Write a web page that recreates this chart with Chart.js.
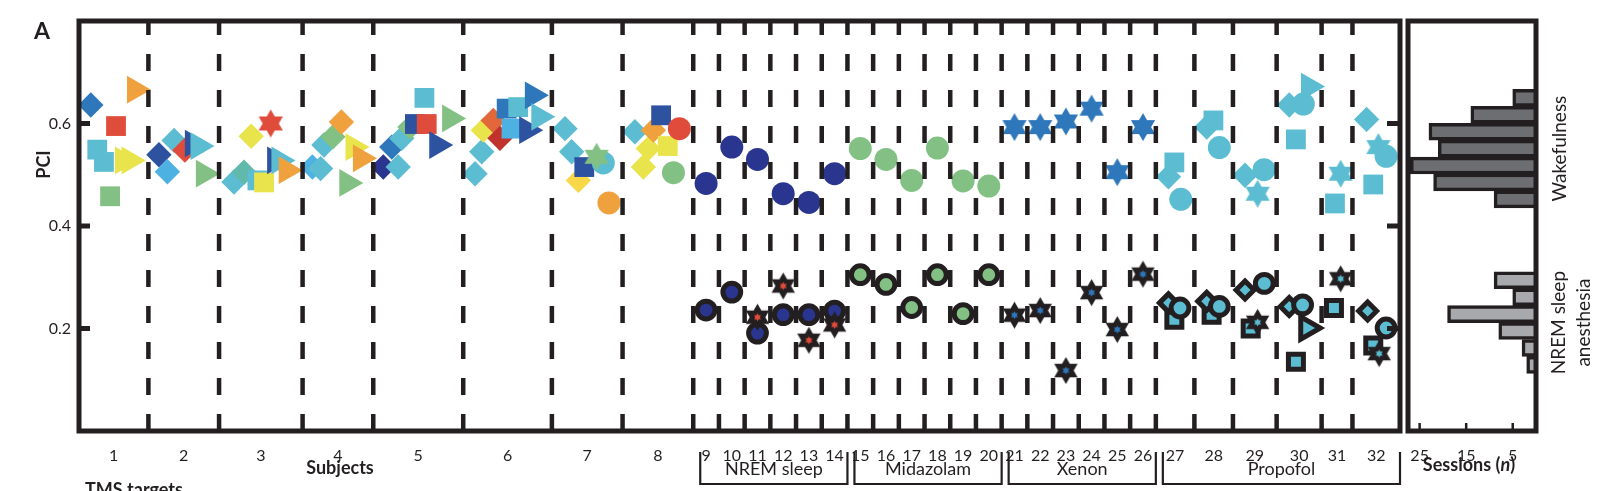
<!DOCTYPE html>
<html>
<head>
<meta charset="utf-8">
<script src="https://cdn.jsdelivr.net/npm/chart.js@4.4.1/dist/chart.umd.min.js"></script>
<style>
  html, body { margin: 0; padding: 0; background: #fff; }
  #wrap { position: relative; width: 1600px; height: 491px; overflow: hidden; }
  #main { position: absolute; left: 0; top: 0; width: 1404px; height: 491px; }
  #hist { position: absolute; left: 1400px; top: 0; width: 200px; height: 491px; }
</style>
</head>
<body>
<div id="wrap">
  <canvas id="main" width="1404" height="491"></canvas>
  <canvas id="hist" width="200" height="491"></canvas>
</div>
<script>
// x positions are in session-column units (subjects 9-26 take one column each)
const subjectEdges = [0, 2.7, 5.45, 8.7, 11.45, 14.95, 18.4, 21.15, 23.9, 24.9, 25.9, 26.9, 27.9,
  28.9, 29.9, 30.9, 31.9, 32.9, 33.9, 34.9, 35.9, 36.9, 37.9, 38.9, 39.9, 40.9, 41.9,
  43.4, 44.9, 46.6, 48.35, 49.55, 51.4];
const subjects = Array.from({ length: 32 }, (_, i) => i + 1);
const groups = ['NREM sleep', 'Midazolam', 'Xenon', 'Propofol'];
const groupFirst = [9, 15, 21, 27];
const groupLast = [14, 20, 26, 32];

// TMS target colours (index used as third value of every point)
const targetColors = ['#2a3590', '#2d52a0', '#2f77bb', '#4db2e2', '#5cbdd2', '#60b9aa', '#82c183',
  '#e9e44b', '#f8d848', '#eea13d', '#e2673b', '#e04c3b', '#c2322c'];

// wakefulness: [x, PCI, target]
const awakeDiamond = [
  [0.46, 0.636, 2],
  [3.11, 0.539, 1], [3.70, 0.567, 4], [3.44, 0.506, 3], [4.12, 0.548, 11],
  [6.03, 0.486, 4], [6.42, 0.505, 5], [6.70, 0.575, 7],
  [9.08, 0.515, 3], [9.40, 0.512, 4], [9.53, 0.558, 4], [9.88, 0.574, 6], [10.21, 0.603, 9],
  [11.84, 0.515, 0], [12.17, 0.554, 2], [12.42, 0.515, 4], [12.56, 0.571, 4], [12.88, 0.593, 6],
  [15.41, 0.502, 4], [15.67, 0.545, 4], [15.73, 0.587, 7], [16.12, 0.606, 10], [16.38, 0.571, 12],
  [18.91, 0.590, 4], [19.17, 0.545, 4], [19.43, 0.489, 8],
  [21.63, 0.584, 4], [21.96, 0.515, 7], [22.15, 0.551, 7], [22.35, 0.587, 9],
  [42.39, 0.496, 4], [43.88, 0.593, 4], [45.37, 0.499, 4], [47.09, 0.636, 4], [50.10, 0.608, 4]
];
const awakeSquare = [
  [1.44, 0.595, 11], [0.71, 0.549, 4], [0.97, 0.525, 4], [1.21, 0.458, 6],
  [6.94, 0.489, 4], [7.20, 0.485, 7],
  [13.07, 0.599, 1], [13.53, 0.599, 11], [13.44, 0.650, 4],
  [16.64, 0.629, 2], [17.09, 0.632, 4], [16.83, 0.590, 3],
  [19.66, 0.515, 1],
  [22.65, 0.616, 1], [22.91, 0.556, 7],
  [42.62, 0.524, 4], [44.14, 0.606, 4], [47.35, 0.569, 4], [48.87, 0.444, 4], [50.36, 0.481, 4]
];
const awakeTriangle = [
  [2.18, 0.666, 9], [1.71, 0.528, 7], [1.97, 0.528, 7],
  [4.43, 0.561, 1], [4.65, 0.556, 4], [4.86, 0.502, 6],
  [7.63, 0.528, 1], [7.80, 0.528, 4], [8.08, 0.509, 9],
  [10.68, 0.554, 7], [10.97, 0.532, 9], [10.44, 0.484, 6],
  [14.44, 0.610, 6], [13.94, 0.558, 1],
  [17.44, 0.587, 1], [17.66, 0.655, 2], [17.91, 0.613, 4],
  [47.86, 0.672, 4]
];
const awakeCircle = [
  [20.40, 0.523, 4], [20.62, 0.445, 9], [23.36, 0.590, 11], [23.13, 0.504, 6],
  [24.4, 0.483, 0], [25.4, 0.554, 0], [26.4, 0.530, 0], [27.4, 0.463, 0], [28.4, 0.446, 0], [29.4, 0.502, 0],
  [30.4, 0.551, 6], [31.4, 0.530, 6], [32.4, 0.489, 6], [33.4, 0.552, 6], [34.4, 0.488, 6], [35.4, 0.478, 6],
  [42.87, 0.452, 4], [44.37, 0.553, 4], [46.11, 0.510, 4], [47.64, 0.638, 4], [50.86, 0.536, 4]
];
const awakeStar = [
  [7.46, 0.600, 11], [20.14, 0.535, 6],
  [36.4, 0.593, 2], [37.4, 0.593, 2], [38.4, 0.604, 2], [39.4, 0.629, 2], [40.4, 0.505, 2], [41.4, 0.593, 2],
  [45.86, 0.463, 4], [49.09, 0.502, 4], [50.56, 0.554, 4]
];

// NREM sleep / anesthesia: [x, PCI, target]
const sleepCircle = [
  [24.4, 0.236, 0], [25.4, 0.271, 0], [26.4, 0.191, 0], [27.4, 0.227, 0], [28.4, 0.227, 0], [29.4, 0.234, 0],
  [30.4, 0.305, 6], [31.4, 0.286, 6], [32.4, 0.241, 6], [33.4, 0.305, 6], [34.4, 0.229, 6], [35.4, 0.305, 6],
  [42.84, 0.240, 4], [44.37, 0.243, 4], [46.12, 0.288, 4], [47.61, 0.246, 4], [50.86, 0.201, 4]
];
const sleepStar = [
  [26.4, 0.222, 11], [27.4, 0.283, 11], [28.4, 0.177, 11], [29.4, 0.207, 11],
  [36.4, 0.226, 2], [37.4, 0.235, 2], [38.4, 0.118, 2], [39.4, 0.270, 2], [40.4, 0.198, 2], [41.4, 0.306, 2],
  [45.86, 0.212, 4], [49.09, 0.297, 4], [50.59, 0.151, 4]
];
const sleepDiamond = [[42.39, 0.250, 4], [43.88, 0.253, 4], [45.37, 0.275, 4], [47.09, 0.243, 4], [50.14, 0.234, 4]];
const sleepSquare = [[42.62, 0.217, 4], [44.07, 0.227, 4], [45.59, 0.200, 4], [47.35, 0.135, 4], [48.83, 0.240, 4], [50.36, 0.167, 4]];
const sleepTriangle = [[47.79, 0.201, 4]];

// histogram of sessions
const wakeBins = [0.650, 0.617, 0.584, 0.551, 0.518, 0.485, 0.452];
const wakeCounts = [5, 14, 23, 21, 27, 22, 9];
const sleepBins = [0.294, 0.261, 0.228, 0.195, 0.162, 0.129];
const sleepCounts = [9, 5, 19, 8, 3, 2];
const sessionTicks = [25, 15, 5];

const ink = '#231f20';
Chart.defaults.font.family = 'Lato';
Chart.defaults.font.size = 16;
Chart.defaults.color = ink;

const starCache = {};
function starImage(color, asleep) {
  const key = color + asleep;
  if (starCache[key]) return starCache[key];
  const R = asleep ? 13.5 : 14;
  const c = document.createElement('canvas');
  c.width = c.height = Math.ceil(R * 2 + 2);
  const g = c.getContext('2d');
  const hex = (r) => {
    g.beginPath();
    for (let k = 0; k < 2; k++) {
      for (let i = 0; i < 3; i++) {
        const ang = -Math.PI / 2 + k * Math.PI + i * 2 * Math.PI / 3;
        const px = c.width / 2 + r * Math.cos(ang), py = c.height / 2 + r * Math.sin(ang);
        i === 0 ? g.moveTo(px, py) : g.lineTo(px, py);
      }
      g.closePath();
    }
    g.fill();
  };
  g.fillStyle = asleep ? ink : color;
  hex(R);
  if (asleep) { g.fillStyle = color; hex(4); }
  starCache[key] = c;
  return c;
}

const styleName = { diamond: 'rectRot', square: 'rect', triangle: 'triangle', circle: 'circle' };
const radius = {
  awake: { diamond: 12.7, square: 14, triangle: 16, circle: 11.5, star: 13 },
  asleep: { diamond: 9, square: 10.6, triangle: 13, circle: 8.9, star: 13 }
};

function shapeSet(points, shape, asleep) {
  const colors = points.map(p => targetColors[p[2]]);
  return {
    data: points.map(p => ({ x: p[0], y: p[1] })),
    pointBackgroundColor: colors,
    pointBorderColor: asleep ? ink : colors,
    pointBorderWidth: asleep ? 5 : 0,
    pointStyle: shape === 'star' ? colors.map(c => starImage(c, asleep)) : styleName[shape],
    pointRotation: shape === 'triangle' ? 90 : 0,
    pointRadius: radius[asleep ? 'asleep' : 'awake'][shape],
    showLine: false,
    clip: false
  };
}

const mainDecor = {
  id: 'mainDecor',
  afterDatasetsDraw(chart) {
    const { ctx, chartArea: a, scales: { x, y } } = chart;
    ctx.save();
    ctx.strokeStyle = ink;
    ctx.lineWidth = 4.5;
    ctx.setLineDash([17, 19]);
    subjectEdges.slice(1, -1).forEach(e => {
      const px = x.getPixelForValue(e);
      ctx.beginPath(); ctx.moveTo(px, a.bottom); ctx.lineTo(px, a.top); ctx.stroke();
    });
    ctx.setLineDash([]);
    ctx.lineWidth = 5;
    y.ticks.forEach(t => {
      const py = y.getPixelForValue(t.value);
      ctx.beginPath();
      ctx.moveTo(a.left, py); ctx.lineTo(a.left + 11, py);
      ctx.moveTo(a.right, py); ctx.lineTo(a.right - 13, py);
      ctx.stroke();
    });
    ctx.strokeRect(a.left, a.top, a.right - a.left, a.bottom - a.top);
    ctx.restore();
  },
  afterDraw(chart) {
    const { ctx, scales: { x, y } } = chart;
    ctx.save();
    ctx.fillStyle = ink;
    ctx.strokeStyle = ink;
    ctx.textAlign = 'center';
    ctx.textBaseline = 'middle';
    ctx.font = 'bold 23px Lato';
    ctx.fillText('A', 42, 32);
    ctx.font = 'bold 18px Lato';
    ctx.save();
    ctx.translate(44, y.getPixelForValue(0.52));
    ctx.rotate(-Math.PI / 2);
    ctx.fillText('PCI', 0, 0);
    ctx.restore();
    ctx.fillText('Subjects', 340, 468);
    ctx.textAlign = 'left';
    ctx.textBaseline = 'top';
    ctx.fillText('TMS targets', 85, 481);
    // condition brackets
    ctx.lineWidth = 2.2;
    ctx.font = '18px Lato';
    ctx.textAlign = 'center';
    ctx.textBaseline = 'middle';
    groups.forEach((g, i) => {
      const x0 = x.getPixelForValue(subjectEdges[groupFirst[i] - 1]) + 7;
      const x1 = x.getPixelForValue(subjectEdges[groupLast[i]]);
      ctx.beginPath();
      ctx.moveTo(x0, 452); ctx.lineTo(x0, 484); ctx.lineTo(x1, 484); ctx.lineTo(x1, 452);
      ctx.stroke();
      ctx.fillText(g, (x0 + x1) / 2, 469);
    });
    ctx.restore();
  }
};

new Chart(document.getElementById('main'), {
  type: 'scatter',
  data: {
    datasets: [
      shapeSet(sleepStar, 'star', true),
      shapeSet(sleepCircle, 'circle', true),
      shapeSet(sleepTriangle, 'triangle', true),
      shapeSet(sleepDiamond, 'diamond', true),
      shapeSet(sleepSquare, 'square', true),
      shapeSet(awakeStar, 'star', false),
      shapeSet(awakeCircle, 'circle', false),
      shapeSet(awakeTriangle, 'triangle', false),
      shapeSet(awakeSquare, 'square', false),
      shapeSet(awakeDiamond, 'diamond', false)
    ]
  },
  options: {
    responsive: false,
    animation: false,
    events: [],
    layout: { autoPadding: false, padding: { top: 21, right: 4, left: 0, bottom: 0 } },
    plugins: { legend: { display: false }, tooltip: { enabled: false } },
    scales: {
      x: {
        type: 'linear', min: subjectEdges[0], max: subjectEdges[subjectEdges.length - 1],
        grid: { display: false }, border: { display: false },
        afterBuildTicks: s => {
          s.ticks = subjects.map((_, i) => ({ value: (subjectEdges[i] + subjectEdges[i + 1]) / 2 }));
        },
        afterFit: s => { s.height = 60; },
        ticks: { autoSkip: false, maxRotation: 0, minRotation: 0, padding: 7,
          callback: (v, i) => subjects[i] }
      },
      y: {
        type: 'linear', min: 0, max: 0.8,
        grid: { display: false, drawTicks: false }, border: { display: false },
        afterBuildTicks: s => { s.ticks = [0.2, 0.4, 0.6].map(v => ({ value: v })); },
        afterFit: s => { s.width = 79; },
        ticks: { padding: 8, callback: v => v.toFixed(1) }
      }
    }
  },
  plugins: [mainDecor]
});

const histDecor = {
  id: 'histDecor',
  afterDatasetsDraw(chart) {
    const { ctx, chartArea: a, scales: { x } } = chart;
    ctx.save();
    ctx.strokeStyle = ink;
    ctx.lineWidth = 2.5;
    sessionTicks.forEach(v => {
      const px = x.getPixelForValue(v);
      ctx.beginPath(); ctx.moveTo(px, a.bottom); ctx.lineTo(px, a.bottom - 8); ctx.stroke();
    });
    ctx.lineWidth = 5;
    ctx.strokeRect(a.left, a.top, a.right - a.left, a.bottom - a.top);
    ctx.restore();
  },
  afterDraw(chart) {
    const { ctx, scales: { y } } = chart;
    ctx.save();
    ctx.fillStyle = ink;
    ctx.textBaseline = 'middle';
    ctx.textAlign = 'left';
    const a = 'Sessions (', b = 'n', c = ')';
    ctx.font = 'bold 18px Lato';
    const wa = ctx.measureText(a).width, wc = ctx.measureText(c).width;
    ctx.font = 'italic bold 18px Lato';
    const wb = ctx.measureText(b).width;
    let sx = 69 - (wa + wb + wc) / 2;
    ctx.font = 'bold 18px Lato';
    ctx.fillText(a, sx, 465);
    ctx.font = 'italic bold 18px Lato';
    ctx.fillText(b, sx + wa, 465);
    ctx.font = 'bold 18px Lato';
    ctx.fillText(c, sx + wa + wb, 465);
    ctx.textAlign = 'center';
    ctx.font = '19px Lato';
    const mid = arr => (arr[0] + arr[arr.length - 1]) / 2;
    const rotText = (t, px, py) => {
      ctx.save(); ctx.translate(px, py); ctx.rotate(-Math.PI / 2); ctx.fillText(t, 0, 0); ctx.restore();
    };
    rotText('Wakefulness', 160, y.getPixelForValue(mid(wakeBins)));
    rotText('NREM sleep', 159, y.getPixelForValue(mid(sleepBins)));
    rotText('anesthesia', 184, y.getPixelForValue(mid(sleepBins)));
    ctx.restore();
  }
};

new Chart(document.getElementById('hist'), {
  type: 'bar',
  data: {
    datasets: [
      {
        data: wakeBins.map((b, i) => ({ x: wakeCounts[i], y: b })),
        backgroundColor: '#6d6e71', borderColor: ink, borderWidth: 3.5,
        barPercentage: 1, categoryPercentage: 1, grouped: false
      },
      {
        data: sleepBins.map((b, i) => ({ x: sleepCounts[i], y: b })),
        backgroundColor: '#a7a9ac', borderColor: ink, borderWidth: 3.5,
        barPercentage: 1, categoryPercentage: 1, grouped: false
      }
    ]
  },
  options: {
    indexAxis: 'y',
    responsive: false,
    animation: false,
    events: [],
    layout: { autoPadding: false, padding: { top: 21, right: 64, left: 8, bottom: 0 } },
    plugins: { legend: { display: false }, tooltip: { enabled: false } },
    scales: {
      x: {
        type: 'linear', reverse: true, min: 0, max: 27.5,
        grid: { display: false }, border: { display: false },
        afterBuildTicks: s => { s.ticks = sessionTicks.map(v => ({ value: v })); },
        afterFit: s => { s.height = 60; },
        ticks: { padding: 7, maxRotation: 0 }
      },
      y: {
        type: 'linear', min: 0, max: 0.8, offset: false, display: false,
        ticks: { stepSize: 0.2 }
      }
    }
  },
  plugins: [histDecor]
});
</script>
</body>
</html>
